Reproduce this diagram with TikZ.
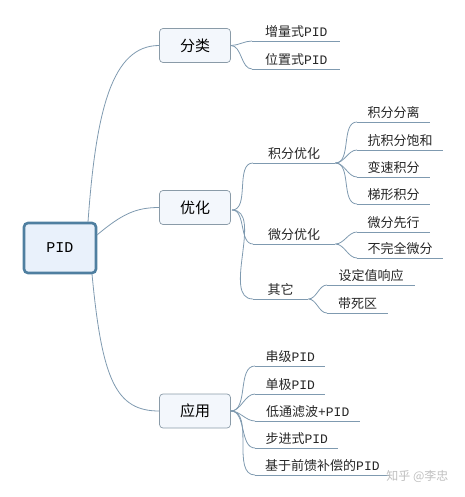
\documentclass[tikz,border=0pt]{standalone}
\usepackage{fontspec}
\setmainfont{Liberation Mono}
\newfontfamily\cjk{Noto Sans CJK SC}
\definecolor{linec}{HTML}{7F9AB0}
\definecolor{pidborder}{HTML}{4F7FA0}
\definecolor{pidfill}{HTML}{E9F1FB}
\definecolor{boxborder}{HTML}{8A9BA8}
\definecolor{boxfill}{HTML}{F3F7FC}
\begin{document}
\begin{tikzpicture}[x=1pt,y=-1pt,
  conn/.style={draw=linec, line width=0.8pt},
  rootbox/.style={draw=pidborder, line width=2.6pt, fill=pidfill, rounded corners=4pt,
    minimum width=72pt, minimum height=50pt, font=\fontsize{15}{15}\selectfont, inner sep=0pt},
  mainbox/.style={draw=boxborder, line width=0.7pt, fill=boxfill, rounded corners=3.5pt,
    minimum width=71pt, minimum height=34pt, font=\fontsize{15}{15}\selectfont\cjk, inner sep=0pt},
  leaf/.style={anchor=south west, inner xsep=10pt, inner ysep=0.5pt, text height=10pt, text depth=3.5pt,
    font=\fontsize{13}{13}\selectfont, align=left, text=black!85},
  uline/.style={draw=linec, line width=0.8pt},
  curv/.style={conn, out=0, in=180, looseness=0.9}
]
\useasboundingbox (0,0) rectangle (464,497);

% root
\node[rootbox] (pid) at (60,248) {PID};

% main boxes
\node[mainbox] (fl) at (195,45.5) {分类};
\node[mainbox] (yh) at (195,207.5) {优化};
\node[mainbox] (yy) at (195,411) {应用};

\coordinate (pidtop) at (88,222);
\coordinate (pidright) at (97,235);
\coordinate (pidbot) at (92,274);
\draw[conn] (pidtop) .. controls (96,110) and (112,45.5) .. (fl.west);
\draw[conn] (pidright) .. controls (122,214) and (136,207.5) .. (yh.west);
\draw[conn] (pidbot) .. controls (102,380) and (116,411) .. (yy.west);

% 分类 leaves
\node[leaf, minimum width=88pt] (f1) at (252,41) {{\cjk 增量式}PID};
\node[leaf, minimum width=88pt] (f2) at (252,69) {{\cjk 位置式}PID};
\foreach \n in {f1,f2} {
  \draw[uline] (\n.south west) -- (\n.south east);
  \draw[curv] (fl.east) to (\n.south west);
}

% 优化 sub-branches
\node[leaf, minimum width=82pt, inner xsep=12pt] (jf) at (253,163) {\cjk 积分优化};
\node[leaf, minimum width=82pt, inner xsep=12pt] (wf) at (253,244) {\cjk 微分优化};
\node[leaf, minimum width=55pt, inner xsep=12pt] (qt) at (253,299) {\cjk 其它};
\coordinate (yhout) at (232,210);
\foreach \n in {jf,wf,qt} {
  \draw[uline] (\n.south west) -- (\n.south east);
  \draw[curv] (yhout) to (\n.south west);
}

% 积分优化 children
\node[leaf, minimum width=73pt] (j1) at (357,122) {\cjk 积分分离};
\node[leaf, minimum width=86pt] (j2) at (357,150) {\cjk 抗积分饱和};
\node[leaf, minimum width=73pt] (j3) at (357,177) {\cjk 变速积分};
\node[leaf, minimum width=73pt] (j4) at (357,204) {\cjk 梯形积分};
\foreach \n in {j1,j2,j3,j4} {
  \draw[uline] (\n.south west) -- (\n.south east);
  \draw[curv] (jf.south east) to (\n.south west);
}

% 微分优化 children
\node[leaf, minimum width=73pt] (w1) at (357,232) {\cjk 微分先行};
\node[leaf, minimum width=86pt] (w2) at (357,258) {\cjk 不完全微分};
\foreach \n in {w1,w2} {
  \draw[uline] (\n.south west) -- (\n.south east);
  \draw[curv] (wf.south east) to (\n.south west);
}

% 其它 children
\node[leaf, minimum width=88pt] (q1) at (327,285) {\cjk 设定值响应};
\node[leaf, minimum width=61pt] (q2) at (327,313) {\cjk 带死区};
\foreach \n in {q1,q2} {
  \draw[uline] (\n.south west) -- (\n.south east);
  \draw[curv] (qt.south east) to (\n.south west);
}

% 应用 leaves
\node[leaf, minimum width=70pt] (y1) at (255,366) {{\cjk 串级}PID};
\node[leaf, minimum width=70pt] (y2) at (255,394) {{\cjk 单极}PID};
\node[leaf, minimum width=105pt] (y3) at (255,421) {{\cjk 低通滤波}+PID};
\node[leaf, minimum width=83pt] (y4) at (255,448) {{\cjk 步进式}PID};
\node[leaf, minimum width=130pt] (y5) at (255,475) {{\cjk 基于前馈补偿的}PID};
\foreach \n in {y1,y2,y3,y4,y5} {
  \draw[uline] (\n.south west) -- (\n.south east);
  \draw[curv] (yy.east) to (\n.south west);
}

% watermark
\node[font=\fontsize{12}{12}\selectfont\cjk, text=black!25, anchor=east] (wm) at (452,476) {知乎 @李忠};
\end{tikzpicture}
\end{document}
